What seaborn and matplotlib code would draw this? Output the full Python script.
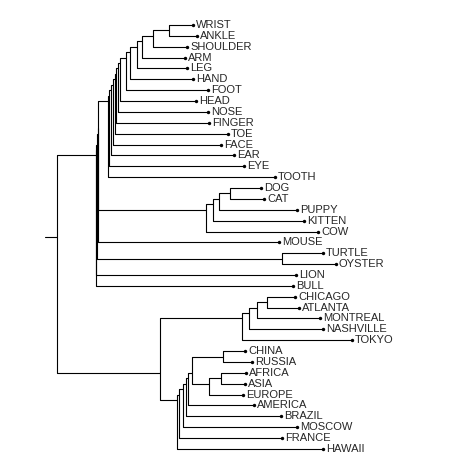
import matplotlib
matplotlib.use("Agg")
import matplotlib.pyplot as plt
import seaborn as sns
import pandas as pd

# leaf labels, top to bottom, and how far right each leaf dot sits (distance from root)
leaf_names = ["WRIST", "ANKLE", "SHOULDER", "ARM", "LEG", "HAND", "FOOT", "HEAD",
              "NOSE", "FINGER", "TOE", "FACE", "EAR", "EYE", "TOOTH",
              "DOG", "CAT", "PUPPY", "KITTEN", "COW", "MOUSE", "TURTLE", "OYSTER",
              "LION", "BULL", "CHICAGO", "ATLANTA", "MONTREAL", "NASHVILLE", "TOKYO",
              "CHINA", "RUSSIA", "AFRICA", "ASIA", "EUROPE", "AMERICA", "BRAZIL",
              "MOSCOW", "FRANCE", "HAWAII"]
leaf_depth = [136, 140, 130, 128, 130, 136, 151, 139, 151, 152, 171, 164, 177, 187, 218,
              204, 207, 240, 247, 261, 222, 266, 279, 239, 236,
              238, 242, 263, 266, 295,
              188, 195, 189, 188, 186, 197, 224, 240, 225, 266]

# internal merges: (left child, right child, depth of the join). leaves are named, nodes are numbered
merges = [
    ("WRIST", "ANKLE", 112), ("n0", "SHOULDER", 96), ("n1", "ARM", 85), ("n2", "LEG", 80),
    ("n3", "HAND", 73), ("n4", "FOOT", 69), ("n5", "HEAD", 63), ("n6", "NOSE", 61),
    ("n7", "FINGER", 59), ("n8", "TOE", 58), ("n9", "FACE", 56), ("n10", "EAR", 54),
    ("n11", "EYE", 52), ("n12", "TOOTH", 51),
    ("DOG", "CAT", 173), ("n14", "PUPPY", 162), ("n15", "KITTEN", 156), ("n16", "COW", 149),
    ("n13", "n17", 41.5), ("n18", "MOUSE", 41), ("TURTLE", "OYSTER", 225), ("n19", "n20", 40),
    ("n21", "LION", 39.5), ("n22", "BULL", 39),
    ("CHICAGO", "ATLANTA", 210), ("n24", "MONTREAL", 200), ("n25", "NASHVILLE", 192),
    ("n26", "TOKYO", 185),
    ("CHINA", "RUSSIA", 166), ("AFRICA", "ASIA", 164), ("n29", "EUROPE", 152),
    ("n28", "n30", 135), ("n31", "AMERICA", 131), ("n32", "BRAZIL", 129),
    ("n33", "MOSCOW", 126), ("n34", "FRANCE", 122), ("n35", "HAWAII", 120),
    ("n27", "n36", 103), ("n23", "n37", 0),
]

ROOT_X = 57
ROW0, ROW_STEP = 25, 10.87

sns.set_style("white")
plt.rcParams['font.family'] = ['Liberation Sans', 'DejaVu Sans']
fig = plt.figure(figsize=(4.74, 4.68), dpi=100)
ax = fig.add_axes([0, 0, 1, 1])

pos = {}
members = {}
for i, (name, d) in enumerate(zip(leaf_names, leaf_depth)):
    pos[name] = (ROOT_X + d, ROW0 + i * ROW_STEP)
    members[name] = [i]

lw = 0.8
for k, (a, b, d) in enumerate(merges):
    x = ROOT_X + d
    xa, ya = pos[a]
    xb, yb = pos[b]
    ax.plot([xa, x, x, xb], [ya, ya, yb, yb], color="black", lw=lw, solid_capstyle="butt")
    m = members[a] + members[b]
    members[f"n{k}"] = m
    # node sits at the mean row of its leaves
    pos[f"n{k}"] = (x, ROW0 + ROW_STEP * sum(m) / len(m))

rx, ry = pos[f"n{len(merges) - 1}"]
ax.plot([rx - 12, rx], [ry, ry], color="black", lw=lw)

leaves = pd.DataFrame({"name": leaf_names,
                       "x": [pos[n][0] for n in leaf_names],
                       "y": [pos[n][1] for n in leaf_names]})
sns.scatterplot(data=leaves, x="x", y="y", color="black", s=6, linewidth=0, ax=ax, zorder=3)
for _, r in leaves.iterrows():
    ax.text(r.x + 3, r.y, r["name"], fontsize=8, va="center", ha="left")

ax.set_xlim(0, 474)
ax.set_ylim(468, 0)
ax.axis("off")
fig.savefig("out.png", dpi=100)
